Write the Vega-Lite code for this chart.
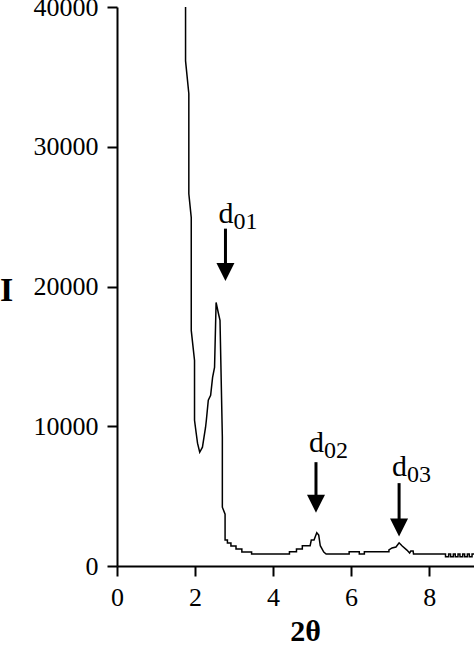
{
  "$schema": "https://vega.github.io/schema/vega-lite/v6.json",
  "width": 357,
  "height": 559,
  "autosize": "none",
  "padding": {"left": 117, "top": 7, "right": 0, "bottom": 79},
  "background": "white",
  "config": {
    "view": {"stroke": null},
    "axis": {
      "grid": false,
      "domainColor": "black",
      "domainWidth": 2,
      "tickColor": "black",
      "tickWidth": 2,
      "tickSize": 10,
      "labelFont": "Liberation Serif",
      "labelFontSize": 26,
      "labelColor": "black",
      "labelFlush": false,
      "labelOverlap": false,
      "titleFont": "Liberation Serif",
      "titleColor": "black",
      "titleFontWeight": "bold"
    }
  },
  "datasets": {
    "xrd": [
      {"t": 1.757, "I": 40000}, {"t": 1.757, "I": 36140}, {"t": 1.841, "I": 33790}, {"t": 1.841, "I": 26640},
      {"t": 1.903, "I": 24930}, {"t": 1.903, "I": 16860}, {"t": 1.987, "I": 14710}, {"t": 1.987, "I": 10430},
      {"t": 2.03, "I": 9500}, {"t": 2.064, "I": 8790}, {"t": 2.12, "I": 8140}, {"t": 2.19, "I": 8500},
      {"t": 2.27, "I": 9930}, {"t": 2.29, "I": 10430}, {"t": 2.34, "I": 11860}, {"t": 2.40, "I": 12210},
      {"t": 2.45, "I": 13500}, {"t": 2.50, "I": 14210}, {"t": 2.54, "I": 18860}, {"t": 2.60, "I": 18070},
      {"t": 2.64, "I": 17570}, {"t": 2.70, "I": 9210}, {"t": 2.70, "I": 4210}, {"t": 2.77, "I": 3710},
      {"t": 2.77, "I": 1860}, {"t": 2.83, "I": 1860}, {"t": 2.83, "I": 1640}, {"t": 2.92, "I": 1640},
      {"t": 2.92, "I": 1430}, {"t": 3.05, "I": 1430}, {"t": 3.05, "I": 1210}, {"t": 3.2, "I": 1210},
      {"t": 3.2, "I": 1000}, {"t": 3.45, "I": 1000}, {"t": 3.45, "I": 860}, {"t": 4.42, "I": 860},
      {"t": 4.42, "I": 1020}, {"t": 4.60, "I": 1020}, {"t": 4.60, "I": 1210}, {"t": 4.75, "I": 1210},
      {"t": 4.75, "I": 1450}, {"t": 4.95, "I": 1450}, {"t": 4.98, "I": 1860}, {"t": 5.05, "I": 1860},
      {"t": 5.12, "I": 2380}, {"t": 5.17, "I": 2210}, {"t": 5.21, "I": 1450}, {"t": 5.30, "I": 1000},
      {"t": 5.36, "I": 860}, {"t": 5.95, "I": 860}, {"t": 5.95, "I": 1020}, {"t": 6.21, "I": 1020},
      {"t": 6.21, "I": 860}, {"t": 6.34, "I": 860}, {"t": 6.34, "I": 1020}, {"t": 6.97, "I": 1020},
      {"t": 6.97, "I": 1150}, {"t": 7.05, "I": 1290}, {"t": 7.15, "I": 1360}, {"t": 7.23, "I": 1660},
      {"t": 7.31, "I": 1430}, {"t": 7.43, "I": 1140}, {"t": 7.50, "I": 930}, {"t": 7.53, "I": 1070},
      {"t": 7.59, "I": 1070}, {"t": 7.60, "I": 860}, {"t": 8.42, "I": 860}, {"t": 8.42, "I": 660},
      {"t": 8.50, "I": 660}, {"t": 8.50, "I": 860}, {"t": 8.55, "I": 860}, {"t": 8.55, "I": 660},
      {"t": 8.62, "I": 660}, {"t": 8.62, "I": 860}, {"t": 8.67, "I": 860}, {"t": 8.67, "I": 660},
      {"t": 8.74, "I": 660}, {"t": 8.74, "I": 860}, {"t": 8.79, "I": 860}, {"t": 8.79, "I": 660},
      {"t": 8.86, "I": 660}, {"t": 8.86, "I": 860}, {"t": 8.91, "I": 860}, {"t": 8.91, "I": 660},
      {"t": 8.98, "I": 660}, {"t": 8.98, "I": 860}, {"t": 9.03, "I": 860}, {"t": 9.03, "I": 660},
      {"t": 9.10, "I": 660}, {"t": 9.10, "I": 860}, {"t": 9.15, "I": 860}
    ],
    "peaks": [
      {"x": 2.78, "sub": "01", "ytext": 24570, "ytop": 24140, "yhead": 21040},
      {"x": 5.10, "sub": "02", "ytext": 8140, "ytop": 7430, "yhead": 4460},
      {"x": 7.23, "sub": "03", "ytext": 6430, "ytop": 5930, "yhead": 2750}
    ]
  },
  "encoding": {
    "x": {
      "type": "quantitative",
      "scale": {"domain": [0, 9.15], "nice": false, "zero": false},
      "axis": {
        "values": [0, 2, 4, 6, 8],
        "labelPadding": 8,
        "title": "2θ",
        "titleFontSize": 30,
        "titleX": 188,
        "titleY": 65,
        "titleAlign": "center",
        "titleBaseline": "middle"
      }
    },
    "y": {
      "type": "quantitative",
      "scale": {"domain": [0, 40000], "nice": false},
      "axis": {
        "values": [0, 10000, 20000, 30000, 40000],
        "format": "d",
        "labelPadding": 9,
        "title": "I",
        "titleAngle": 0,
        "titleFontSize": 34,
        "titleX": -111,
        "titleY": 283,
        "titleAlign": "center",
        "titleBaseline": "middle"
      }
    }
  },
  "layer": [
    {
      "data": {"name": "xrd"},
      "mark": {"type": "line", "color": "black", "strokeWidth": 1.5, "clip": true},
      "encoding": {
        "x": {"field": "t", "type": "quantitative"},
        "y": {"field": "I", "type": "quantitative"},
        "order": {"value": null}
      }
    },
    {
      "data": {"name": "peaks"},
      "mark": {"type": "rule", "color": "black", "strokeWidth": 3},
      "encoding": {
        "x": {"field": "x", "type": "quantitative"},
        "y": {"field": "ytop", "type": "quantitative"},
        "y2": {"field": "yhead"}
      }
    },
    {
      "data": {"name": "peaks"},
      "mark": {"type": "point", "shape": "M-1,-1L1,-1L0,1Z", "size": 324, "filled": true, "color": "black", "opacity": 1, "strokeWidth": 0},
      "encoding": {
        "x": {"field": "x", "type": "quantitative"},
        "y": {"field": "yhead", "type": "quantitative"}
      }
    },
    {
      "data": {"name": "peaks"},
      "mark": {"type": "text", "text": "d", "font": "Liberation Serif", "fontSize": 30, "align": "right", "baseline": "alphabetic", "dx": 8, "color": "black"},
      "encoding": {
        "x": {"field": "x", "type": "quantitative"},
        "y": {"field": "ytext", "type": "quantitative"}
      }
    },
    {
      "data": {"name": "peaks"},
      "mark": {"type": "text", "font": "Liberation Serif", "fontSize": 24, "align": "left", "baseline": "alphabetic", "dx": 8, "dy": 6, "color": "black"},
      "encoding": {
        "x": {"field": "x", "type": "quantitative"},
        "y": {"field": "ytext", "type": "quantitative"},
        "text": {"field": "sub", "type": "nominal"}
      }
    }
  ]
}
